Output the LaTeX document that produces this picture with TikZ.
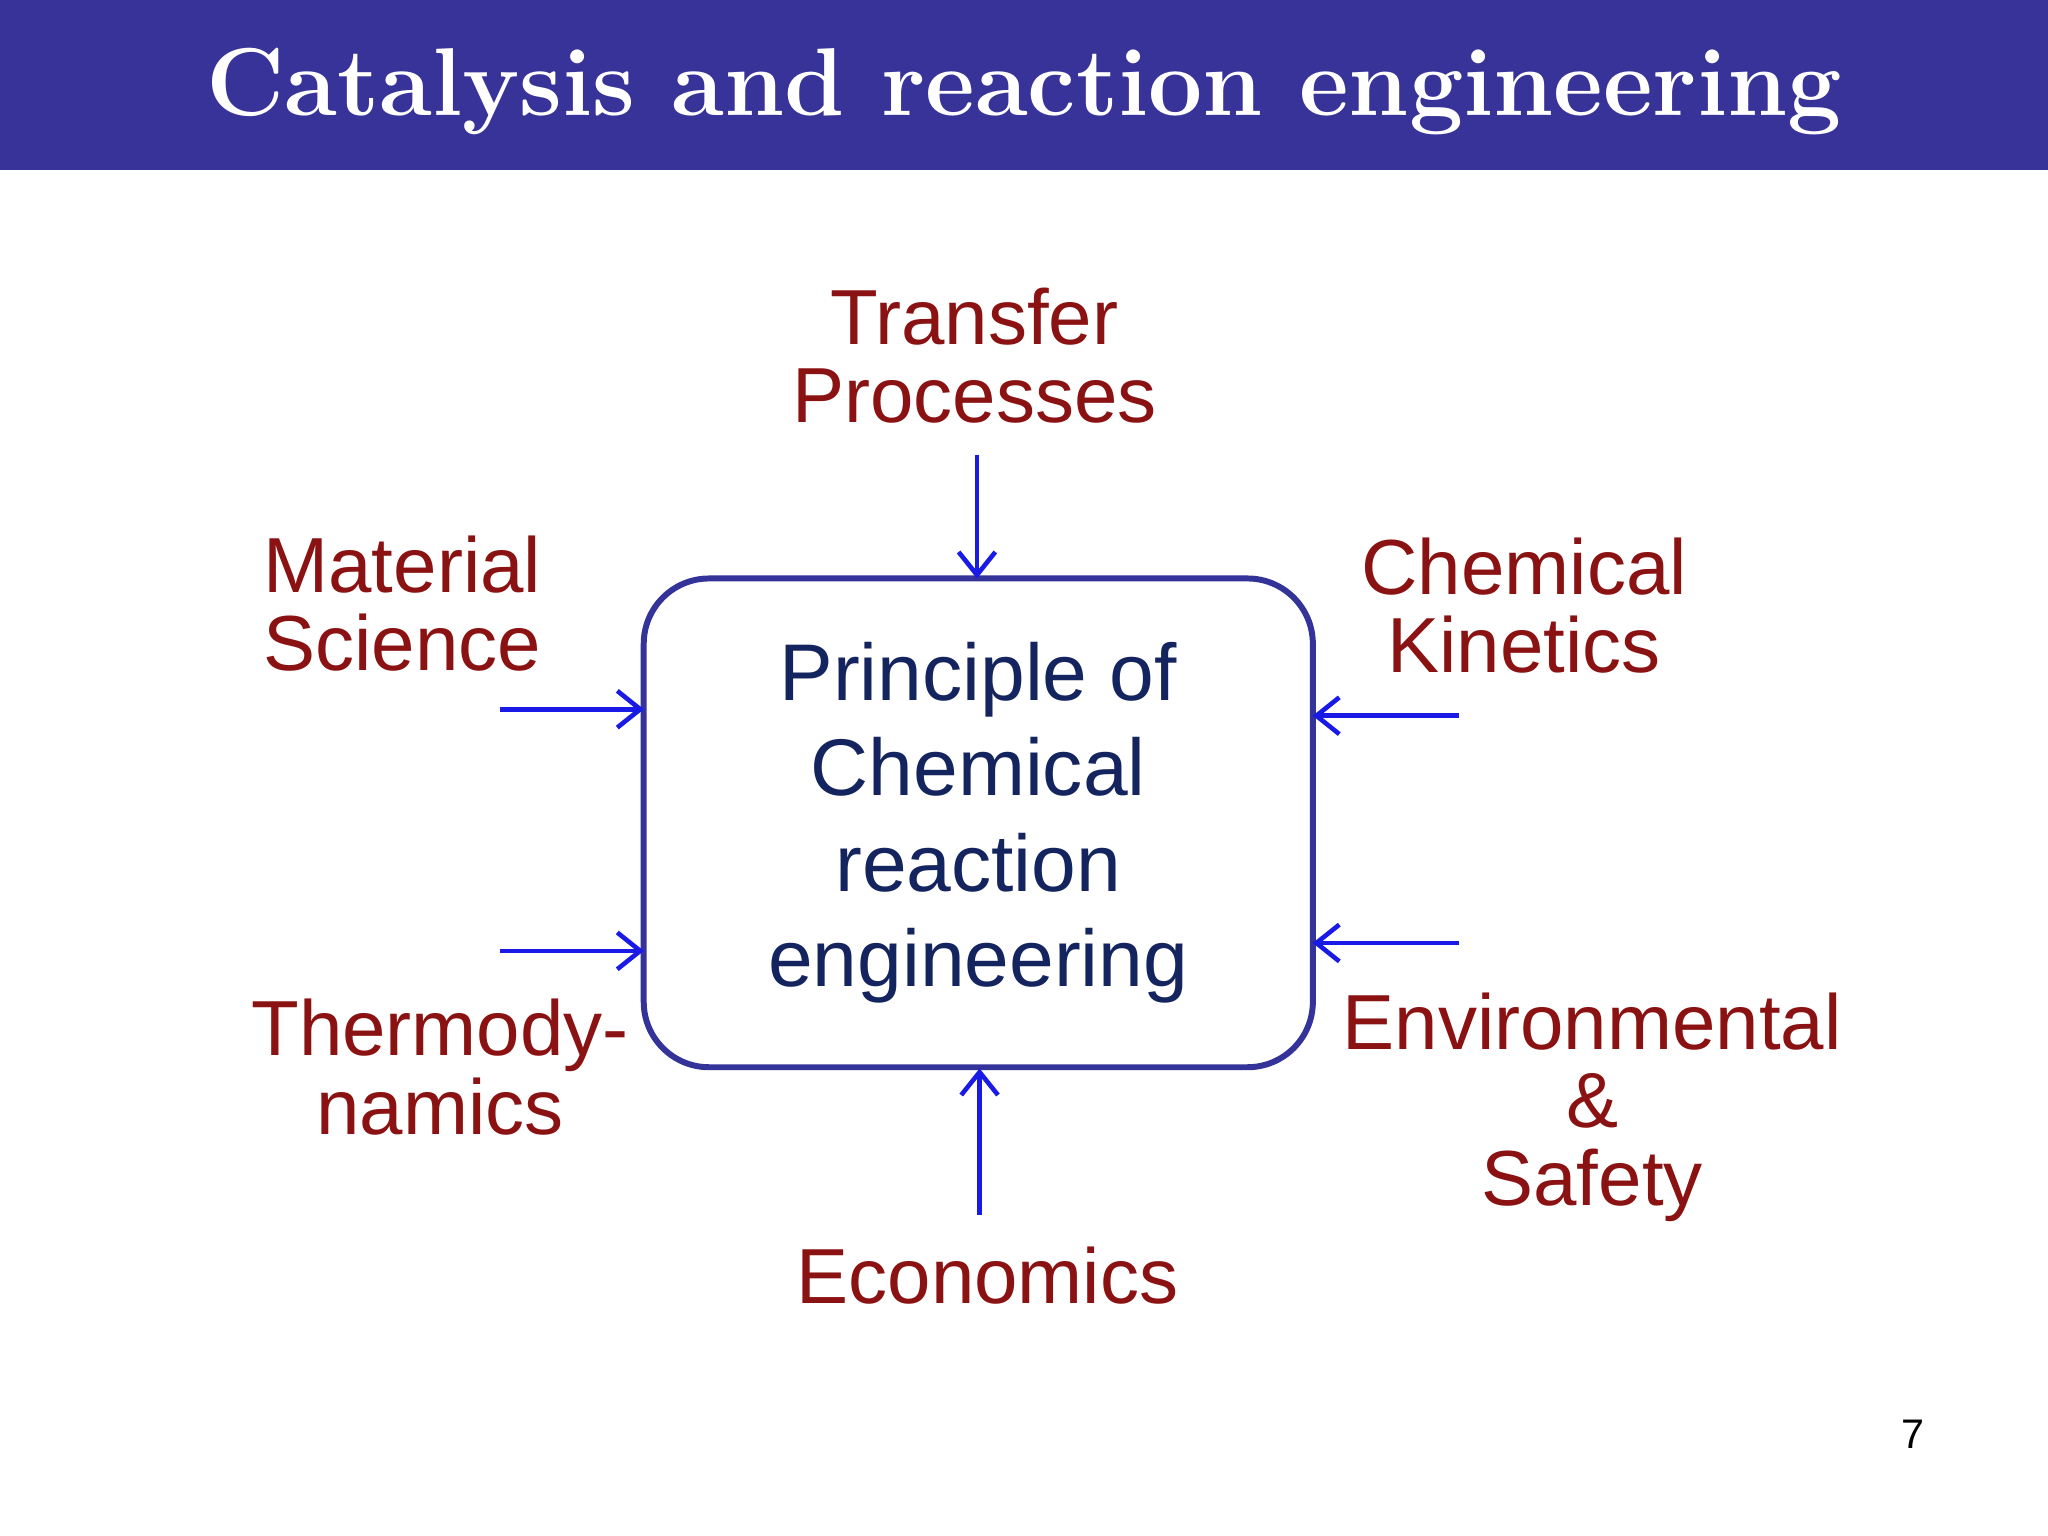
\documentclass[tikz,border=0pt]{standalone}
\usepackage{fontspec}
\setsansfont{Liberation Sans}
\usetikzlibrary{arrows.meta}
\definecolor{band}{HTML}{383398}
\definecolor{lab}{HTML}{8B1212}
\definecolor{arr}{HTML}{1A1AE6}
\definecolor{boxc}{HTML}{333399}
\definecolor{navy}{HTML}{14245E}
\tikzset{
 lbl/.style={text=lab,font=\sffamily\fontsize{17}{17}\selectfont,align=center,inner sep=0},
 ar/.style={draw=arr,line width=1pt,-{Straight Barb[length=5pt,width=8pt]}}
}
\begin{document}
\begin{tikzpicture}[x=0.01cm,y=-0.01cm]
\useasboundingbox (0,0) rectangle (1568,1176);
\fill[white] (0,0) rectangle (1568,1176);
\fill[band] (0,0) rectangle (1568,130);
\node[text=white,font=\rmfamily\bfseries\fontsize{21}{24}\selectfont] (title) at (784,70) {Catalysis and reaction engineering};
\node[draw=boxc,line width=1.3pt,rounded corners=0.5cm,minimum width=5.12cm,minimum height=3.74cm,
 text=navy,font=\sffamily\fontsize{17.5}{20.8}\selectfont,align=center] (box) at (749,630)
 {Principle of\\Chemical\\reaction\\engineering};
\node[lbl] (tp) at (746,272) {Transfer\\Processes};
\node[lbl] (ms) at (308,462) {Material\\Science};
\node[lbl] (ck) at (1167,464) {Chemical\\Kinetics};
\node[lbl] (th) at (337,817) {Thermody-\\namics};
\node[lbl] (es) at (1219,848) {Environmental\\\&\\Safety};
\node[lbl] (ec) at (756,977) {Economics};
\node[font=\sffamily\fontsize{9}{11}\selectfont] (pg) at (1465,1098) {7};
\coordinate (a1) at (748,348); \coordinate (b1) at (748,443);
\coordinate (a2) at (750,930); \coordinate (b2) at (750,818);
\coordinate (a3) at (383,543); \coordinate (b3) at (493,543);
\coordinate (a4) at (383,728); \coordinate (b4) at (493,728);
\coordinate (a5) at (1117,548); \coordinate (b5) at (1005,548);
\coordinate (a6) at (1117,722); \coordinate (b6) at (1005,722);
\foreach \i in {1,...,6} \draw[ar] (a\i) -- (b\i);
\end{tikzpicture}
\end{document}
